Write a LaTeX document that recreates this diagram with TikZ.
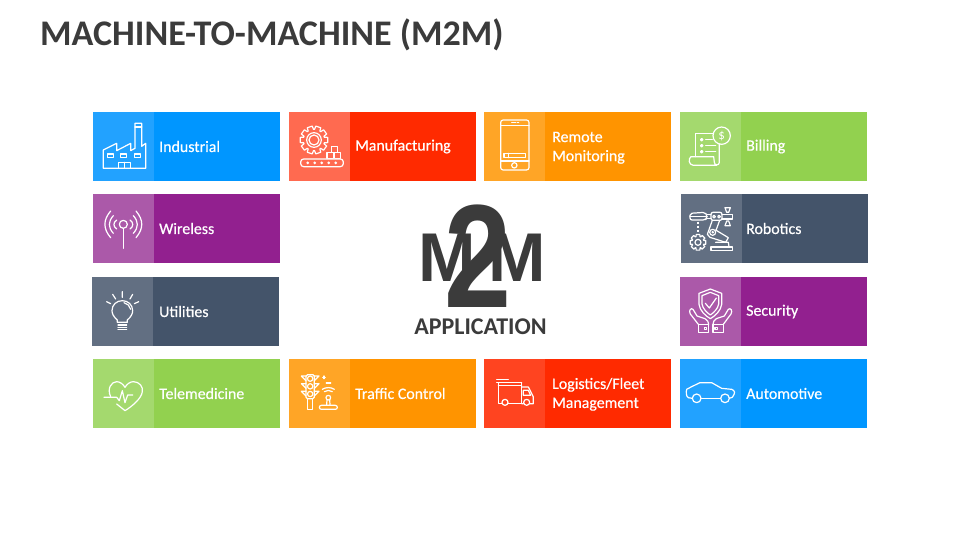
\documentclass[tikz,border=0pt]{standalone}
\usepackage{fontspec}
\setmainfont{Carlito}
\newfontfamily\logofont{Liberation Sans}
\newfontfamily\cardfont[FakeBold=0.5]{Carlito}
\definecolor{blueA}{HTML}{0096FF}\definecolor{blueB}{HTML}{22A2FF}
\definecolor{redA}{HTML}{FF2A00}\definecolor{redB}{HTML}{FF6A50}\definecolor{redC}{HTML}{FF4420}
\definecolor{orangeA}{HTML}{FF9400}\definecolor{orangeB}{HTML}{FFA526}
\definecolor{greenA}{HTML}{92D14F}\definecolor{greenB}{HTML}{A4D96E}
\definecolor{purpleA}{HTML}{92208F}\definecolor{purpleB}{HTML}{AB59A9}
\definecolor{slateA}{HTML}{44546A}\definecolor{slateB}{HTML}{626F82}
\definecolor{inkA}{HTML}{3B3B3B}
\tikzset{
  cardmain/.style={anchor=north west,inner sep=0pt,minimum width=187pt,minimum height=69pt},
  cardband/.style={anchor=north west,inner sep=0pt,minimum height=69pt},
  cardlabel/.style={anchor=west,inner sep=0pt,text=white,align=left,font=\fontsize{15.9}{19}\cardfont},
  zoomed/.style 2 args={shift={(#1,#2)},x=0.33333pt,y=-0.33333pt},
  ico/.style={draw=white,line width=1.2pt,line join=round,line cap=round},
  dotw/.style={fill=white,draw=none},
}
\newcommand{\card}[7]{%
  \node[cardmain,fill=#5] (#1) at (#2,#3) {};
  \node[cardband,fill=#6,minimum width=61pt] (#1-band) at (#2,#3) {};
  \node[cardlabel] (#1-label) at ($(#2,#3)+(#4)$) {#7};
}
\newcommand{\gearshape}[6]{% cx cy router rinner teeth fill
  \begin{scope}[shift={(#1,#2)}]
    \pgfmathsetmacro{\gstep}{360/#5}
    \pgfmathsetmacro{\gend}{360-\gstep}
    \draw[ico,fill=#6] (-0.3*\gstep:#3)
      \foreach \a in {0,\gstep,...,\gend} {
        -- ({\a-0.3*\gstep}:#3) -- ({\a+0.3*\gstep}:#3)
        -- ({\a+0.42*\gstep}:#4) -- ({\a+0.58*\gstep}:#4)
      } -- cycle;
  \end{scope}
}
\usetikzlibrary{calc}
\begin{document}
\begin{tikzpicture}[x=1pt,y=-1pt]
\useasboundingbox (0,0) rectangle (960,540);
\node[anchor=west,inner sep=0pt,text=inkA,font=\fontsize{36.05}{36}\selectfont\bfseries] (title) at (40,35) {MACHINE-TO-MACHINE (M2M)};

\card{industrial}{93}{112}{66,34.5}{blueA}{blueB}{Industrial}
\card{manufacturing}{289}{112}{66,34.5}{redA}{redB}{Manufacturing}
\card{remote}{484}{112}{68,35.8}{orangeA}{orangeB}{Remote\\Monitoring}
\card{billing}{680}{112}{66,34.5}{greenA}{greenB}{Billing}
\card{wireless}{93}{194}{66,34.5}{purpleA}{purpleB}{Wireless}
\card{robotics}{681}{194}{65,34.5}{slateA}{slateB}{Robotics}
\card{utilities}{92}{277}{67,34.5}{slateA}{slateB}{Utilities}
\card{security}{680}{277}{66,34.5}{purpleA}{purpleB}{Security}
\card{telemedicine}{93}{359}{66,34.5}{greenA}{greenB}{Telemedicine}
\card{traffic}{289}{359}{66,34.5}{orangeA}{orangeB}{Traffic Control}
\card{logistics}{484}{359}{68,35.3}{redA}{redC}{Logistics/Fleet\\Management}
\card{automotive}{680}{359}{66,34.5}{blueA}{blueB}{Automotive}

% centre logo
\node[inner sep=0pt,text=inkA,font=\fontsize{69}{69}\selectfont\logofont\bfseries] (mleft) at (447,258) {M};
\node[inner sep=0pt,text=inkA,font=\fontsize{69}{69}\selectfont\logofont\bfseries] (mright) at (517.5,258) {M};
\node[inner sep=0pt,text=inkA,draw=none,font=\fontsize{147}{147}\selectfont\logofont\bfseries] (two) at (478.5,256) {\scalebox{0.82}[1]{2}};
\node[inner sep=0pt,text=inkA,font=\fontsize{24}{24}\selectfont\bfseries] (app) at (480.5,326.7) {APPLICATION};

% Industrial
\begin{scope}[zoomed={90}{105}]
\draw[ico] (40,190) -- (40,135) -- (80,115) -- (80,137) -- (122,115) -- (122,137) -- (135,130) -- (135,55) -- (155,55) -- (155,124) -- (167,115) -- (167,190) -- cycle;
\draw[ico] (135,66) -- (155,66);
\foreach \wx in {52,92,133}{\draw[ico] (\wx,147) rectangle ++(18,10);}
\draw[ico] (85,190) -- (85,172) -- (122,172) -- (122,190) (103,172) -- (103,190);
\end{scope}
% Wireless
\begin{scope}[zoomed={90}{105}]
\draw[ico] (100,358) circle[radius=12pt/3];
\draw[ico] (100,370) -- (100,430);
\draw[ico] (62,318) .. controls (39,345) and (39,371) .. (62,398);
\draw[ico] (70,332) .. controls (54,350) and (54,367) .. (70,385);
\draw[ico] (80,345) .. controls (69,352) and (69,365) .. (80,372);
\draw[ico] (138,318) .. controls (161,345) and (161,371) .. (138,398);
\draw[ico] (130,332) .. controls (146,350) and (146,367) .. (130,385);
\draw[ico] (120,345) .. controls (131,352) and (131,365) .. (120,372);
\end{scope}
% Utilities
\begin{scope}[zoomed={90}{270}]
\draw[ico] (82,157) -- (82,150) .. controls (70,140) and (66,130) .. (66,122) .. controls (66,104) and (80,92) .. (97,92) .. controls (114,92) and (128,104) .. (128,122) .. controls (128,130) and (124,140) .. (112,150) -- (112,157) -- cycle;
\draw[ico] (102,98) .. controls (112,100) and (120,108) .. (122,118);
\foreach \ly in {165,172,179}{\draw[ico] (84,\ly) -- (110,\ly);}
\draw[ico] (97,65) -- (97,82) (68,73) -- (77,87) (128,73) -- (120,87) (50,95) -- (62,101) (146,95) -- (133,101);
\end{scope}
% Telemedicine
\begin{scope}[zoomed={90}{270}]
\draw[ico] (62,380) .. controls (50,355) and (65,335) .. (80,335) .. controls (90,335) and (100,343) .. (105,352) .. controls (110,343) and (120,335) .. (130,335) .. controls (148,335) and (160,350) .. (157,365) .. controls (155,385) and (125,410) .. (105,422) -- (80,402);
\draw[ico] (42,382) -- (80,382) -- (88,392) -- (97,362) -- (105,398) -- (113,375) -- (128,375);
\end{scope}
% Manufacturing
\begin{scope}[zoomed={285}{105}]
\gearshape{87}{105}{42}{32}{10}{redB}
\draw[ico] (87,105) circle[radius=22pt/3] (87,105) circle[radius=15pt/3];
\draw[ico,fill=redB] (140,125) rectangle (157,143);
\draw[ico,fill=redB] (126,143) rectangle (146,161);
\draw[ico,fill=redB] (148,143) rectangle (166,161);
\draw[ico,rounded corners=3pt,fill=redB] (47,162) rectangle (175,185);
\foreach \cx in {68,89,110,131,152}{\fill[dotw] (\cx,173.5) circle[radius=4.5pt/3];}
\end{scope}
% Remote
\begin{scope}[zoomed={480}{105}]
\draw[ico,rounded corners=2.5pt] (62,45) rectangle (147,195);
\draw[ico] (62,62) -- (147,62) (62,168) -- (147,168);
\draw[ico] (72,145) rectangle (137,158) (85,145) -- (85,158);
\draw[ico] (95,52) -- (107,52) (112,52) -- (116,52);
\draw[ico] (103,181) circle[radius=8pt/3];
\end{scope}
% Billing
\begin{scope}[zoomed={675}{105}]
\draw[ico] (62,155) -- (62,85) -- (115,85);
\draw[ico] (133,118) -- (133,172) .. controls (133,182) and (118,182) .. (118,172) -- (116,155) -- (48,155) .. controls (40,160) and (40,180) .. (55,181) -- (125,181);
\draw[ico] (140,92) circle[radius=26pt/3];
\node[inner sep=0pt,text=white,font=\fontsize{13}{13}\selectfont] (dollar) at (140,92) {\$};
\foreach \by/\bx in {104/112,122/122,140/122}{
  \draw[ico] (80,\by) circle[radius=3.5pt/3];
  \draw[ico] (92,\by) -- (\bx,\by);}
\end{scope}
% Robotics
\begin{scope}[zoomed={675}{105}]
\draw[ico,rounded corners=2pt] (45,345) -- (45,325) -- (90,322) -- (96,330) -- (96,340) -- (90,345) -- cycle;
\draw[ico] (45,335) -- (96,335);
\draw[ico,rounded corners=2pt] (108,322) rectangle (141,346);
\draw[ico] (117,335) circle[radius=4pt/3] (132,335) circle[radius=4pt/3];
\draw[ico] (96,328) -- (108,328) (96,340) -- (108,340);
\draw[ico] (141,328) -- (172,328) -- (172,342) -- (141,342);
\draw[ico] (150,308) -- (166,308) -- (161,322) -- (155,322) -- cycle;
\draw[ico] (150,362) -- (166,362) -- (161,348) -- (155,348) -- cycle;
\draw[ico] (112,346) -- (97,388) -- (106,398) (134,346) -- (123,376);
\draw[ico] (113,382) circle[radius=9pt/3] (113,382) circle[radius=2pt/3];
\draw[ico] (122,375) -- (160,398) -- (152,412) -- (108,398);
\draw[ico] (122,412) -- (160,412) -- (162,425);
\draw[ico] (108,426) rectangle (172,437);
\draw[ico,dash pattern=on 2pt off 2pt,line cap=butt] (69,350) -- (69,386);
\gearshape{69}{412}{24}{18}{8}{slateB}
\draw[ico] (69,412) circle[radius=9pt/3];
\end{scope}
% Security
\begin{scope}[zoomed={675}{270}]
\draw[ico] (106,57) -- (140,70) -- (140,103) .. controls (138,122) and (120,138) .. (106,146) .. controls (92,138) and (74,122) .. (72,103) -- (72,70) -- cycle;
\draw[ico] (106,67) -- (131,77) -- (131,102) .. controls (129,116) and (116,128) .. (106,135) .. controls (96,128) and (83,116) .. (81,102) -- (81,77) -- cycle;
\draw[ico] (91,100) -- (103,114) -- (124,84);
\draw[ico] (70,163) rectangle (101,187) (88,172) rectangle (95,179);
\draw[ico] (114,163) rectangle (145,187) (120,172) rectangle (127,179);
\draw[ico] (70,163) -- (46,132) .. controls (40,122) and (48,112) .. (54,118) -- (66,138) (66,138) -- (90,146) .. controls (97,150) and (101,156) .. (101,163);
\draw[ico] (145,163) -- (168,132) .. controls (174,122) and (166,112) .. (160,118) -- (148,138) -- (124,146) .. controls (117,150) and (114,156) .. (114,163);
\end{scope}
% Automotive
\begin{scope}[zoomed={675}{270}]
\draw[ico] (52,385) -- (40,383) .. controls (33,380) and (33,365) .. (35,358) -- (50,350) -- (75,338) -- (110,338) -- (140,355) -- (170,358) .. controls (180,362) and (182,368) .. (172,382) -- (163,385);
\draw[ico] (78,385) -- (137,385);
\draw[ico] (65,385) circle[radius=13pt/3] (150,385) circle[radius=13pt/3];
\end{scope}
% Traffic
\begin{scope}[zoomed={285}{352}]
\draw[ico,rounded corners=1.5pt] (63,68) rectangle (88,140);
\foreach \ty in {80,103,126}{
  \draw[ico] (75.5,\ty) circle[radius=8pt/3];
  \draw[ico] (63,{\ty-8}) -- (49,{\ty-8}) -- (63,{\ty+6}) (88,{\ty-8}) -- (102,{\ty-8}) -- (88,{\ty+6});}
\draw[ico] (68,140) -- (68,172) -- (82,172) -- (82,140);
\draw[ico] (113,76) -- (121,76) (117,72) -- (117,80);
\draw[ico,line width=1.5pt] (124,93) -- (137,93);
\draw[ico] (112,112) .. controls (122,105) and (138,105) .. (148,112);
\draw[ico] (118,119) .. controls (125,114) and (135,114) .. (142,119);
\draw[ico] (130,137) circle[radius=7pt/3];
\draw[ico] (126,143) -- (125,158) (134,143) -- (135,158);
\draw[ico,rounded corners=2pt] (103,160) rectangle (157,172);
\end{scope}
% Logistics
\begin{scope}[zoomed={480}{352}]
\draw[ico] (50,83) -- (85,83);
\draw[ico] (50,92) -- (125,92) (55,100) -- (125,100);
\draw[ico] (66,155) -- (55,155) -- (55,92) (125,92) -- (125,155) -- (85,155);
\draw[ico] (125,105) -- (145,105) -- (160,135) -- (160,155) -- (150,155) (125,155) -- (130,155);
\draw[ico] (130,115) -- (145,115) -- (152,130) -- (130,130) -- cycle;
\draw[ico] (75,151) circle[radius=9pt/3] (140,151) circle[radius=9pt/3];
\end{scope}
\end{tikzpicture}
\end{document}
